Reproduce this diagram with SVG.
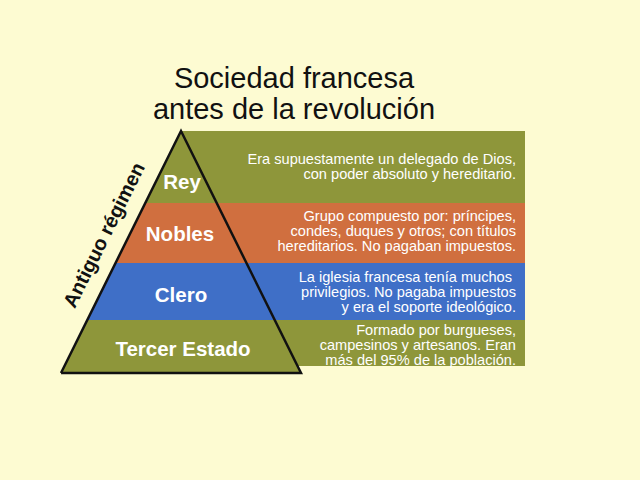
<svg xmlns="http://www.w3.org/2000/svg" width="640" height="480" viewBox="0 0 640 480">
<style>
.t{font-family:"Liberation Sans",Arial,sans-serif;fill:#fff}
.l{font-weight:bold;font-size:20.5px;text-anchor:middle}
.d{font-size:14.6px;text-anchor:end}
.h{font-family:"Liberation Sans",Arial,sans-serif;font-size:29px;fill:#111;text-anchor:middle}
</style>
<rect width="640" height="480" fill="#fdfbd2"/>
<g id="title"><text class="h" x="294" y="88">Sociedad francesa</text><text class="h" x="294" y="119">antes de la revolución</text></g>
<g id="rey"><polygon points="181,131 525,131 525,203 145.3,203" fill="#8e963a"/><text class="t l" x="182" y="189">Rey</text>
<text class="t d" x="516" y="164">Era supuestamente un delegado de Dios,</text><text class="t d" x="516" y="179">con  poder absoluto y hereditario.</text></g>
<g id="nobles"><polygon points="145.3,203 525,203 525,263 115.5,263" fill="#d06f3f"/><text class="t l" x="180" y="241">Nobles</text>
<text class="t d" x="516" y="221">Grupo compuesto por: príncipes,</text><text class="t d" x="516" y="236">condes, duques y otros; con títulos</text><text class="t d" x="516" y="251">hereditarios. No pagaban impuestos.</text></g>
<g id="clero"><polygon points="115.5,263 525,263 525,320 87.3,320" fill="#3f6fc7"/><text class="t l" x="181" y="302">Clero</text>
<text class="t d" x="512" y="282">La iglesia francesa tenía muchos</text><text class="t d" x="516" y="297">privilegios.  No pagaba impuestos</text><text class="t d" x="516" y="312">y era el soporte ideológico.</text></g>
<g id="tercer"><polygon points="87.3,320 525,320 525,366 297.5,366 301,373 61,373" fill="#8e963a"/><text class="t l" x="183" y="356">Tercer Estado</text>
<text class="t d" x="516" y="335">Formado por burgueses,</text><text class="t d" x="516" y="350">campesinos y artesanos.  Eran</text><text class="t d" x="516" y="365">más del 95% de la población.</text></g>
<g id="connectors" stroke="#111" stroke-width="2.5" fill="none"><polyline points="61,373 181,131 301,373 61,373"/></g>
<g id="antiguo"><text x="110" y="238" transform="rotate(-63.6 110 238)" font-family="Liberation Sans,Arial,sans-serif" font-weight="bold" font-size="20" fill="#111" text-anchor="middle">Antiguo régimen</text></g>
</svg>
